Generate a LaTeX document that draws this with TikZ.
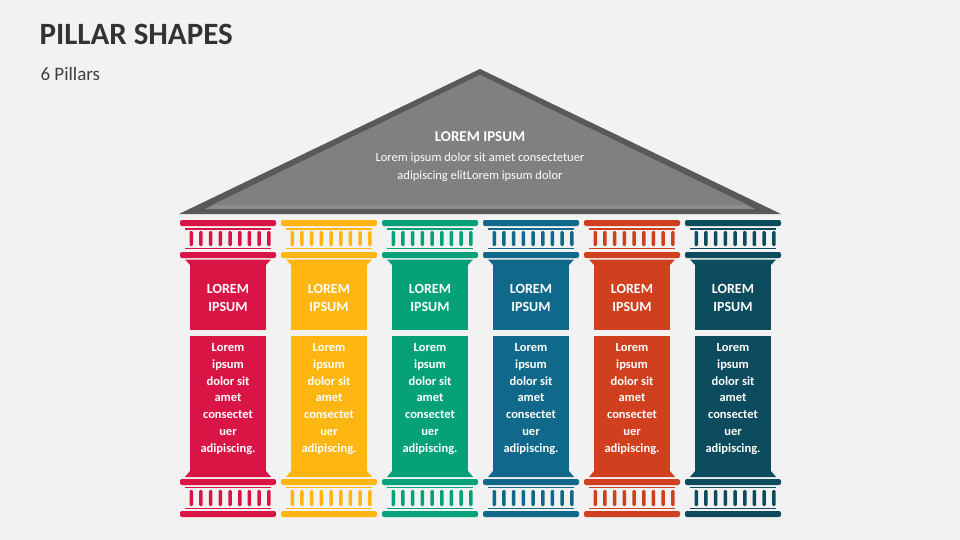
\documentclass[tikz,border=0pt]{standalone}
\usepackage{fontspec}
\setmainfont{Carlito}
\definecolor{bg}{HTML}{F2F2F2}
\definecolor{pA}{HTML}{D91545}
\definecolor{pB}{HTML}{FFB612}
\definecolor{pC}{HTML}{06A178}
\definecolor{pD}{HTML}{10698A}
\definecolor{pE}{HTML}{D1401E}
\definecolor{pF}{HTML}{0D4B5E}
\definecolor{roofout}{HTML}{595959}
\definecolor{roofin}{HTML}{808080}
\tikzset{ttl/.style={text=white,font=\bfseries\fontsize{14}{18}\selectfont,align=center},
 body/.style={text=white,font=\bfseries\fontsize{12.5}{16.7}\selectfont,align=center}}
\begin{document}
\begin{tikzpicture}[x=1pt,y=-1pt]
\fill[bg] (0,0) rectangle (960,540);
\useasboundingbox (0,0) rectangle (960,540);
\node[anchor=west,font=\bfseries\fontsize{31}{34}\selectfont,text=black!80] (title) at (36,34) {PILLAR SHAPES};
\node[anchor=west,font=\fontsize{19}{22}\selectfont,text=black!75] (sub) at (37,74) {6 Pillars};
% roof
\fill[roofout] (480,69) -- (781,214) -- (179,214) -- cycle;
\fill[black!45] (480,75) -- (755,209) -- (205,209) -- cycle;
\fill[roofin] (480,75) -- (748,205) -- (212,205) -- cycle;
\node[text=white,font=\bfseries\fontsize{15}{18}\selectfont] (rt) at (480,137) {LOREM IPSUM};
\node[text=white,font=\fontsize{12.5}{18}\selectfont,align=center] (rb) at (480,167) {Lorem ipsum dolor sit amet consectetuer\\adipiscing elitLorem ipsum dolor};
\foreach \c [count=\i from 0] in {pA,pB,pC,pD,pE,pF}{
 \begin{scope}[xshift=\i*101]
 \fill[\c,rounded corners=2] (180,220) rectangle (276,226);
 \fill[\c] (185,228) rectangle (271,229.5);
 \foreach \k in {0,...,8}{\fill[\c,rounded corners=1.2] (189.5+\k*9.7,231) rectangle +(3.5,15);}
 \fill[\c] (185,247.5) rectangle (271,249);
 \fill[\c,rounded corners=2] (180,252) rectangle (276,258);
 \fill[\c] (185,259.5) -- (271,259.5) -- (266,265) -- (190,265) -- cycle;
 \fill[\c] (190,265) rectangle (266,330);
 \fill[\c] (190,336) rectangle (266,471);
 \fill[\c] (190,471) -- (266,471) -- (271,477) -- (185,477) -- cycle;
 \fill[\c,rounded corners=2] (180,479) rectangle (276,485);
 \fill[\c] (185,486.5) rectangle (271,488);
 \foreach \k in {0,...,8}{\fill[\c,rounded corners=1.2] (189.5+\k*9.7,490) rectangle +(3.5,16);}
 \fill[\c] (185,507.5) rectangle (271,509);
 \fill[\c,rounded corners=2] (180,511) rectangle (276,517);
 \node[ttl] (t\i) at (228,298) {LOREM\\IPSUM};
 \node[body] (b\i) at (228,399) {Lorem\\ipsum\\dolor sit\\amet\\consectet\\uer\\adipiscing.};
 \end{scope}
}
\end{tikzpicture}
\end{document}
